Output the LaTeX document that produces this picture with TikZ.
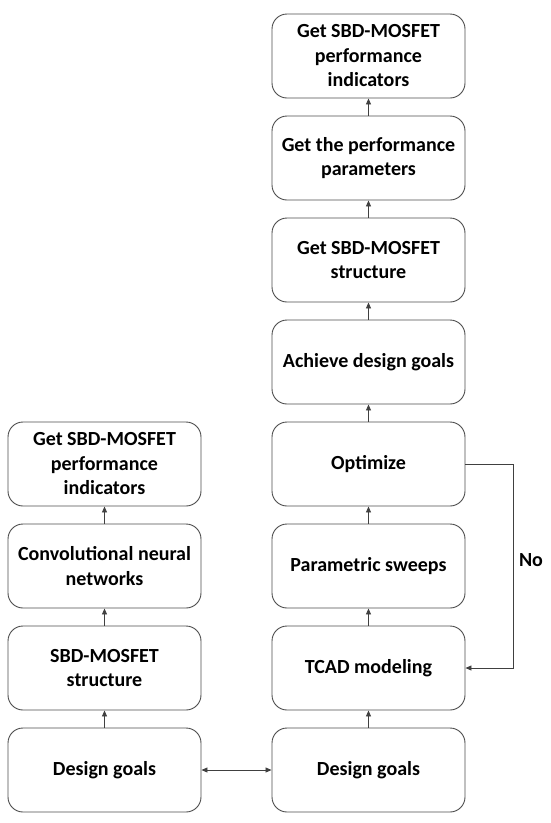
\documentclass[tikz,border=0pt]{standalone}
\usepackage{fontspec}
\setmainfont{Carlito}
\usetikzlibrary{arrows.meta}
\begin{document}
\begin{tikzpicture}[x=1pt,y=-1pt,
  box/.style={draw=black!70, line width=0.9pt, rounded corners=15pt, minimum width=193pt, minimum height=84pt, align=center, font=\fontsize{20}{24.5}\selectfont\bfseries, inner sep=2pt},
  arr/.style={draw=black!75, line width=0.8pt, -{Triangle[length=6pt,width=5pt]}},
  darr/.style={draw=black!75, line width=0.8pt, {Triangle[length=6pt,width=5pt]}-{Triangle[length=6pt,width=5pt]}}]
\useasboundingbox (0,0) rectangle (550,823);
% right column
\node[box] (r1) at (368.5,770) {Design goals};
\node[box] (r2) at (368.5,668) {TCAD modeling};
\node[box] (r3) at (368.5,566) {Parametric sweeps};
\node[box] (r4) at (368.5,464) {Optimize};
\node[box] (r5) at (368.5,362) {Achieve design goals};
\node[box] (r6) at (368.5,260) {Get SBD-MOSFET\\structure};
\node[box] (r7) at (368.5,158) {Get the performance\\parameters};
\node[box] (r8) at (368.5,56) {Get SBD-MOSFET\\performance\\indicators};
% left column
\node[box] (l1) at (104.5,770) {Design goals};
\node[box] (l2) at (104.5,668) {SBD-MOSFET\\structure};
\node[box] (l3) at (104.5,566) {Convolutional neural\\networks};
\node[box] (l4) at (104.5,464) {Get SBD-MOSFET\\performance\\indicators};
% arrows
\foreach \a/\b in {r1/r2,r2/r3,r3/r4,r4/r5,r5/r6,r6/r7,r7/r8,l1/l2,l2/l3,l3/l4}
  \draw[arr] (\a.north) -- (\b.south);
\draw[darr] (l1.east) -- (r1.west);
\coordinate (c1) at (513,464);
\coordinate (c2) at (513,668);
\draw[arr] (r4.east) -- (c1) -- (c2) -- (r2.east);
\node[font=\fontsize{20}{24.5}\selectfont\bfseries] (no) at (531,560) {No};
\end{tikzpicture}
\end{document}
